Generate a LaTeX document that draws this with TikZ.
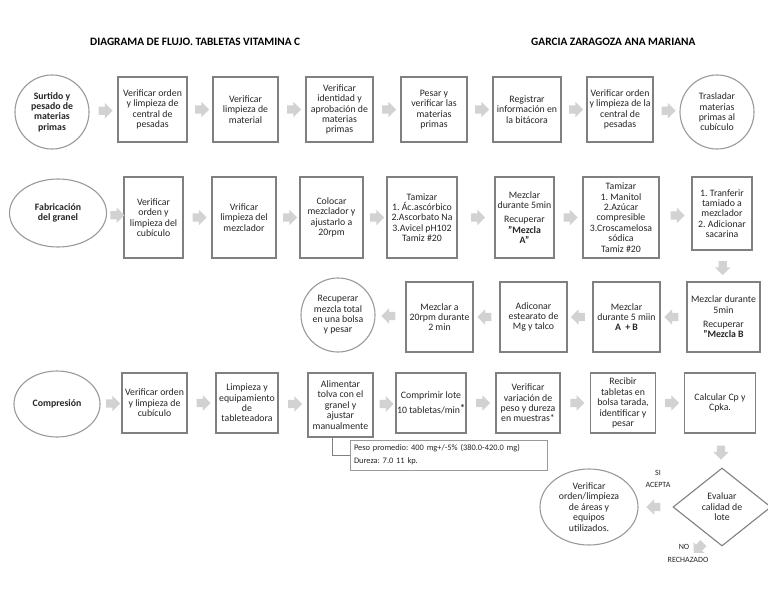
\documentclass[tikz,border=0pt]{standalone}
\usepackage{fontspec}
\setmainfont{Carlito}
\usetikzlibrary{shapes.geometric,shapes.arrows,calc}
\definecolor{txt}{HTML}{262626}
\definecolor{boxline}{HTML}{808080}
\definecolor{roundline}{HTML}{9A9A9A}
\definecolor{arrowfill}{HTML}{D2D2D2}
\frenchspacing
\begin{document}
\begin{tikzpicture}[x=1pt,y=-1pt,
  every node/.style={font=\fontsize{9.8}{10.4}\selectfont, text=txt, align=center, inner sep=1pt},
  pbox/.style={draw=boxline, line width=1.4pt, rectangle},
  rnode/.style={draw=roundline, line width=1.1pt, circle, minimum size=74pt, inner sep=0pt},
  enode/.style={draw=roundline, line width=1.1pt, ellipse, inner sep=0pt},
  garrow/.style={single arrow, fill=arrowfill, draw=none, minimum height=14pt, inner sep=4pt,
    single arrow head extend=3.5pt, single arrow head indent=0pt},
  title/.style={font=\fontsize{11.3}{13}\selectfont\bfseries, text=black},
  small/.style={font=\fontsize{8}{12}\selectfont, text=txt}]
\useasboundingbox[fill=white] (0,0) rectangle (768,594);

% titles
\node[title, anchor=west] (t1) at (89,42) {DIAGRAMA DE FLUJO. TABLETAS VITAMINA C};
\node[title, anchor=west] (t2) at (530,42) {GARCIA ZARAGOZA ANA MARIANA};

% ---------- row 1
\node[rnode] (r1c) at (52,112) {\textbf{Surtido y}\\\textbf{pesado de}\\\textbf{materias}\\\textbf{primas}};
\node[pbox, minimum width=69pt, minimum height=65pt] (r1b1) at (152.5,109.5) {Verificar orden\\y limpieza de\\central de\\pesadas};
\node[pbox, minimum width=65pt, minimum height=65pt] (r1b2) at (245.5,109.5) {Verificar\\limpieza de\\material};
\node[pbox, minimum width=67pt, minimum height=65pt] (r1b3) at (339.5,109.5) {Verificar\\identidad y\\aprobación de\\materias\\primas};
\node[pbox, minimum width=66pt, minimum height=65pt] (r1b4) at (434,109.5) {Pesar y\\verificar las\\materias\\primas};
\node[pbox, minimum width=68pt, minimum height=65pt] (r1b5) at (527,109.5) {Registrar\\información en\\la bitácora};
\node[pbox, minimum width=66pt, minimum height=65pt] (r1b6) at (620,109.5) {Verificar orden\\y limpieza de la\\central de\\pesadas};
\node[rnode] (r1c2) at (717,112) {Trasladar\\materias\\primas al\\cubículo};

\node[garrow] (a11) at ($(r1c.east)!0.5!(r1b1.west)$) {};
\node[garrow] (a12) at ($(r1b1.east)!0.5!(r1b2.west)$) {};
\node[garrow] (a13) at ($(r1b2.east)!0.5!(r1b3.west)$) {};
\node[garrow] (a14) at ($(r1b3.east)!0.5!(r1b4.west)$) {};
\node[garrow] (a15) at ($(r1b4.east)!0.5!(r1b5.west)$) {};
\node[garrow] (a16) at ($(r1b5.east)!0.5!(r1b6.west)$) {};
\node[garrow] (a17) at ($(r1b6.east)!0.5!(r1c2.west)$) {};

% ---------- row 2
\node[enode, minimum width=97pt, minimum height=68pt] (r2e) at (58,213) {\textbf{Fabricación}\\\textbf{del granel}};
\node[pbox, minimum width=59pt, minimum height=81pt] (r2b1) at (153.5,217.5) {Verificar\\orden y\\limpieza del\\cubículo};
\node[pbox, minimum width=64pt, minimum height=81pt] (r2b2) at (244,217.5) {Vrificar\\limpieza del\\mezclador};
\node[pbox, minimum width=63pt, minimum height=81pt] (r2b3) at (331.5,217.5) {Colocar\\mezclador y\\ajustarlo a\\20rpm};
\node[pbox, minimum width=70pt, minimum height=81pt] (r2b4) at (422,217.5) {Tamizar\\1. Ác.ascórbico\\2.Ascorbato Na\\3.Avicel pH102\\Tamiz \#20};
\node[pbox, minimum width=59pt, minimum height=81pt] (r2b5) at (524.5,217.5) {Mezclar\\durante 5min\\[4pt]Recuperar\\\textbf{"Mezcla}\\\textbf{A"}};
\node[pbox, minimum width=76pt, minimum height=81pt] (r2b6) at (621,217.5) {Tamizar\\1. Manitol\\2.Azúcar\\compresible\\3.Croscamelosa\\sódica\\Tamiz \#20};
\node[pbox, minimum width=60pt, minimum height=73pt] (r2b7) at (722,213.5) {1. Tranferir\\tamiado a\\mezclador\\2. Adicionar\\sacarina};

\node[garrow] (a21) at ($(r2e.east)!0.5!(r2b1.west)$) {};
\node[garrow] (a22) at ($(r2b1.east)!0.5!(r2b2.west)$) {};
\node[garrow] (a23) at ($(r2b2.east)!0.5!(r2b3.west)$) {};
\node[garrow] (a24) at ($(r2b3.east)!0.5!(r2b4.west)$) {};
\node[garrow] (a25) at ($(r2b4.east)!0.5!(r2b5.west)$) {};
\node[garrow] (a26) at ($(r2b5.east)!0.5!(r2b6.west)$) {};
\node[garrow] (a27) at ($(r2b6.east)!0.5!(r2b7.west)$) {};

% ---------- row 3
\node[pbox, minimum width=73pt, minimum height=70pt] (r3b1) at (723.5,317) {Mezclar durante\\5min\\[4pt]Recuperar\\\textbf{"Mezcla B}};
\node[pbox, minimum width=67pt, minimum height=70pt] (r3b2) at (626.5,317) {Mezclar\\durante 5 miin\\\textbf{A\ \ + B}};
\node[pbox, minimum width=67pt, minimum height=70pt] (r3b3) at (533.5,317) {Adiconar\\estearato de\\Mg y talco};
\node[pbox, minimum width=67pt, minimum height=70pt] (r3b4) at (439.5,317) {Mezclar a\\20rpm durante\\2 min};
\node[rnode] (r3c) at (338,315) {Recuperar\\mezcla total\\en una bolsa\\y pesar};

\node[garrow, rotate=270] (a30) at ($(r2b7.south)!0.5!(r3b1.north)$) {};
\node[garrow, rotate=180] (a31) at ($(r3b1.west)!0.5!(r3b2.east)$) {};
\node[garrow, rotate=180] (a32) at ($(r3b2.west)!0.5!(r3b3.east)$) {};
\node[garrow, rotate=180] (a33) at ($(r3b3.west)!0.5!(r3b4.east)$) {};
\node[garrow, rotate=180] (a34) at ($(r3b4.west)!0.5!(r3c.east)$) {};

% ---------- row 4
\node[enode, minimum width=86pt, minimum height=66pt] (r4e) at (57,404) {\textbf{Compresión}};
\node[pbox, minimum width=65pt, minimum height=60pt] (r4b1) at (154.5,403) {Verificar orden\\y limpieza de\\cubículo};
\node[pbox, minimum width=62pt, minimum height=60pt] (r4b2) at (247,403) {Limpieza y\\equipamiento\\de\\tableteadora};
\node[pbox, minimum width=65pt, minimum height=64pt] (r4b3) at (340.5,405) {Alimentar\\tolva con el\\granel y\\ajustar\\manualmente};
\node[pbox, minimum width=65pt, minimum height=60pt] (r4b4) at (431,403) {Comprimir lote\\[4pt]10 tabletas/min\raisebox{1.5pt}{\textbf{*}}};
\node[pbox, minimum width=64pt, minimum height=60pt] (r4b5) at (528,403) {Verificar\\variación de\\peso y dureza\\en muestras*};
\node[pbox, minimum width=65pt, minimum height=60pt] (r4b6) at (623,403) {Recibir\\tabletas en\\bolsa tarada,\\identificar y\\pesar};
\node[pbox, minimum width=71pt, minimum height=60pt] (r4b7) at (720,403) {Calcular Cp y\\Cpka.};

\node[garrow] (a41) at ($(r4e.east)!0.5!(r4b1.west)$) {};
\node[garrow] (a42) at ($(r4b1.east)!0.5!(r4b2.west)$) {};
\node[garrow] (a43) at ($(r4b2.east)!0.5!(r4b3.west)$) {};
\node[garrow] (a44) at ($(r4b3.east)!0.5!(r4b4.west)$) {};
\node[garrow] (a45) at ($(r4b4.east)!0.5!(r4b5.west)$) {};
\node[garrow] (a46) at ($(r4b5.east)!0.5!(r4b6.west)$) {};
\node[garrow] (a47) at ($(r4b6.east)!0.5!(r4b7.west)$) {};

% note
\node[draw=roundline, line width=0.8pt, minimum width=197pt, minimum height=30pt, text width=189pt,
  align=left, inner sep=4pt, font=\fontsize{8.4}{13}\selectfont] (note) at (448.5,455)
  {Peso promedio: 400 mg+/-5\% (380.0-420.0 mg)\\Dureza: 7.0 11 kp.};
\draw[draw=boxline, line width=0.8pt] ($(r4b3.south)+(-8,0)$) |- (note.west);

% ---------- decision
\node[draw=boxline, line width=1.1pt, diamond, minimum width=98pt, minimum height=78pt, aspect=1.25, inner sep=0pt] (dia) at (722,507) {Evaluar\\calidad de\\lote};
\node[enode, minimum width=98pt, minimum height=76pt] (fin) at (589,507) {Verificar\\orden/limpieza\\de áreas y\\equipos\\utilizados.};

\node[garrow, rotate=270] (a50) at ($(r4b7.south)!0.5!(dia.north)$) {};
\node[garrow, rotate=180] (a51) at ($(dia.west)!0.5!(fin.east)$) {};
\node[garrow, rotate=225] (a52) at ($(dia.south)+(-22,0)$) {};

\node[small] (si) at (658,479) {SI\\ACEPTA};
\node[small] (no) at (684,547) {NO};
\node[small] (rech) at (688,560) {RECHAZADO};
\end{tikzpicture}
\end{document}
